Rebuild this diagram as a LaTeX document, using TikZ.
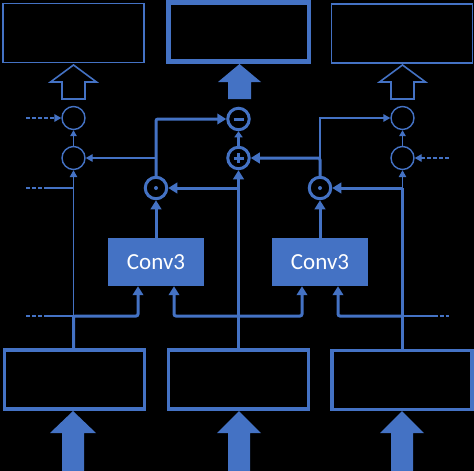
\documentclass[tikz,border=0pt]{standalone}
\usepackage{fontspec}
\newfontfamily\convfont{Carlito}
\usetikzlibrary{arrows.meta}
\definecolor{cellblue}{RGB}{68,114,196}

\begin{document}
\begin{tikzpicture}[x=1pt, y=-1pt,
  thinline/.style={draw=cellblue, line width=1.4pt},
  thickline/.style={draw=cellblue, line width=3pt, rounded corners=2pt},
  thinarr/.style={thinline, -{Triangle[width=7.5pt,length=7pt]}},
  smallarr/.style={thinline, -{Triangle[width=6.5pt,length=6pt]}},
  thickarr/.style={thickline, -{Triangle[width=10.5pt,length=9pt]}},
  shortarr/.style={thickline, -{Triangle[width=8pt,length=6pt]}},
  dashline/.style={thinline, dash pattern=on 4pt off 2pt},
  outbox/.style={draw=cellblue, line width=1.6pt, minimum width=141pt, minimum height=59pt, inner sep=0pt},
  midbox/.style={outbox, line width=4.5pt, minimum width=140.5pt},
  inbox/.style={draw=cellblue, line width=3.3pt, minimum width=140pt, minimum height=59pt, inner sep=0pt},
  convbox/.style={fill=cellblue, minimum width=96pt, minimum height=48pt, inner sep=0pt, text=white, font=\convfont\fontsize{23}{28}\selectfont},
  smallcirc/.style={circle, draw=cellblue, line width=1.4pt, minimum size=23pt, inner sep=0pt},
  bigcirc/.style={circle, draw=cellblue, line width=3pt, minimum size=21.5pt, inner sep=0pt},
  signline/.style={draw=cellblue, line width=3pt},
  blockfill/.style={fill=cellblue},
  blockhollow/.style={draw=cellblue, line width=1.6pt, line join=miter}]
  \useasboundingbox (0,0) rectangle (474,471);
  \fill[black] (0,0) rectangle (474,471);

  % boxes
  \node[outbox] (outL) at (73.25,33) {};
  \node[midbox] (outM) at (238.75,32) {};
  \node[outbox] (outR) at (402,33.25) {};
  \node[inbox] (inL) at (74.5,379.5) {};
  \node[inbox] (inM) at (238.5,379.5) {};
  \node[inbox] (inR) at (402,380) {};
  \node[convbox] (convL) at (156,262) {Conv3};
  \node[convbox] (convR) at (320,262) {Conv3};

  % circles
  \node[smallcirc] (upL) at (73.5,118) {};
  \node[smallcirc] (loL) at (73.5,158) {};
  \node[smallcirc] (upR) at (402.5,118) {};
  \node[smallcirc] (loR) at (402.5,158) {};
  \node[bigcirc] (minus) at (238.5,119) {};
  \node[bigcirc] (plus) at (238.5,158) {};
  \node[bigcirc] (odotL) at (156,188) {};
  \node[bigcirc] (odotR) at (320,188) {};
  \draw[signline] ([xshift=-5pt]minus.center) -- ([xshift=5pt]minus.center);
  \draw[signline] ([xshift=-5pt]plus.center) -- ([xshift=5pt]plus.center);
  \draw[signline] ([yshift=-5pt]plus.center) -- ([yshift=5pt]plus.center);
  \fill[cellblue] (odotL) circle[radius=2pt];
  \fill[cellblue] (odotR) circle[radius=2pt];

  % junctions
  \coordinate (jL) at (73.5,316);
  \coordinate (jL2) at (loL |- odotL);
  \coordinate (jM1) at (plus |- odotL);
  \coordinate (jM2) at (plus |- jL);
  \coordinate (jR1) at (loR |- odotR);
  \coordinate (jR2) at (loR |- jL);
  \coordinate (kL) at (odotL |- loL);
  \coordinate (kR) at (odotR |- plus);
  \coordinate (dL1) at (26,316);
  \coordinate (dL2) at (26,188);
  \coordinate (dL3) at (26,118);
  \coordinate (dR2) at (449,158);

  % left column
  \draw[thickarr] (jL |- inL.north) -- (jL) -| ([xshift=-18pt]convL.south);
  \draw[thinarr] (jL) -- (loL.south);
  \draw[smallarr] (loL.north) -- (upL.south);
  \draw[dashline] (dL1) -- ++(20,0) coordinate (dL1e);
  \draw[thinline] (dL1e) -- (jL);
  \draw[dashline] (dL2) -- ++(20,0) coordinate (dL2e);
  \draw[thinline] (dL2e) -- (jL2);
  \draw[dashline, -{Triangle[width=7.5pt,length=7pt]}] (dL3) -- (upL.west);
  \draw[thinarr] (kL) -- (loL.east);

  % middle column
  \draw[thickarr] (convL.north) -- (odotL.south);
  \draw[thickarr] (odotL.north) |- (minus.west);
  \draw[thickarr] (inM.north) -- (plus.south);
  \draw[shortarr] (plus.north) -- (minus.south);
  \draw[thickarr] (jM1) -- (odotL.east);
  \draw[thickarr] (jM2) -| ([xshift=18pt]convL.south);
  \draw[thickarr] (jM2) -| ([xshift=-18pt]convR.south);
  \draw[thickarr] (convR.north) -- (odotR.south);
  \draw[thickarr] (odotR.north) |- (plus.east);
  \draw[thinarr] (kR) |- (upR.west);

  % right column
  \draw[thickline] (jR1 |- inR.north) -- (jR1);
  \draw[thickarr] (jR1) -- (odotR.east);
  \draw[thickarr] (jR2) -| ([xshift=18pt]convR.south);
  \draw[thinarr] (jR1) -- (loR.south);
  \draw[smallarr] (loR.north) -- (upR.south);
  \draw[thinline] (jR2) -- ++(31,0) coordinate (dR1e);
  \draw[dashline] (dR1e) -- ++(15,0);
  \draw[dashline, -{Triangle[width=7.5pt,length=7pt]}] (dR2) -- (loR.east);

  % block arrows
  \draw[blockhollow] (73.5,65) -- ++(23,17) -- ++(-11.5,0) -- ++(0,17) -- ++(-23,0) -- ++(0,-17) -- ++(-11.5,0) -- cycle;
  \fill[blockfill] (239.5,64) -- ++(21.5,18) -- ++(-10,0) -- ++(0,17) -- ++(-23,0) -- ++(0,-17) -- ++(-10,0) -- cycle;
  \draw[blockhollow] (402.5,65) -- ++(23,17) -- ++(-11.5,0) -- ++(0,17) -- ++(-23,0) -- ++(0,-17) -- ++(-11.5,0) -- cycle;
  \fill[blockfill] (73,411) -- ++(23,22) -- ++(-12,0) -- ++(0,40) -- ++(-22,0) -- ++(0,-40) -- ++(-12,0) -- cycle;
  \fill[blockfill] (239,411) -- ++(22,22) -- ++(-11,0) -- ++(0,40) -- ++(-22,0) -- ++(0,-40) -- ++(-11,0) -- cycle;
  \fill[blockfill] (402,411) -- ++(22,22) -- ++(-11,0) -- ++(0,40) -- ++(-22,0) -- ++(0,-40) -- ++(-11,0) -- cycle;
\end{tikzpicture}
\end{document}
